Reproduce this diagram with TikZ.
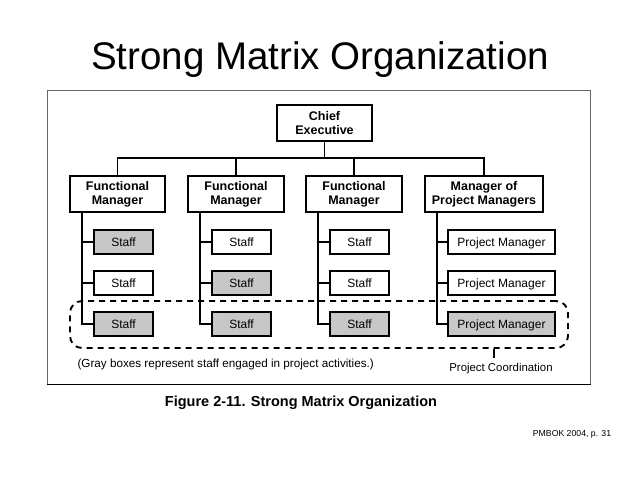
\documentclass[tikz,border=0pt]{standalone}
\usepackage{fontspec}
\setmainfont{Liberation Sans}
\begin{document}
\begin{tikzpicture}[x=1pt,y=-1pt,
  mgr/.style={draw,line width=1.1pt,font=\bfseries\fontsize{12.5}{14}\selectfont,align=center,inner sep=0pt},
  wbox/.style={draw,line width=1.1pt,font=\fontsize{12}{13}\selectfont,inner sep=0pt,minimum height=24pt,text depth=0pt},
  gbox/.style={wbox,fill=black!22},
  ln/.style={line width=1.1pt}]
\useasboundingbox (0,0) rectangle (638,479);
\node (title) at (320,60) {\fontsize{38.5}{42}\selectfont Strong Matrix Organization};
\node[draw=black!60,line width=1pt,minimum width=543pt,minimum height=294pt,inner sep=0pt] (frame) at (318.5,237) {};
\draw[line width=1.6pt] (frame.south west) -- (frame.south east);
\node[mgr,minimum width=95pt,minimum height=36pt] (ce) at (324.5,123) {Chief\\Executive};
\node[mgr,minimum width=95pt,minimum height=36pt] (f1) at (117.5,194) {Functional\\Manager};
\node[mgr,minimum width=96pt,minimum height=36pt] (f2) at (236,194) {Functional\\Manager};
\node[mgr,minimum width=96pt,minimum height=36pt] (f3) at (354,194) {Functional\\Manager};
\node[mgr,minimum width=118pt,minimum height=36pt] (pm) at (484,194) {Manager of\\Project Managers};
\coordinate (bus) at (0,158);
\draw[ln] (ce.south) -- (ce.south |- bus);
\draw[ln] (f1.north) -- (f1.north |- bus) -- (pm.north |- bus) -- (pm.north);
\draw[ln] (f2.north) -- (f2.north |- bus);
\draw[ln] (f3.north) -- (f3.north |- bus);
% staff
\node[gbox,minimum width=59pt] (a1) at (123.5,242) {Staff};
\node[wbox,minimum width=59pt] (a2) at (123.5,283) {Staff};
\node[gbox,minimum width=59pt] (a3) at (123.5,324) {Staff};
\node[wbox,minimum width=59pt] (b1) at (241.5,242) {Staff};
\node[gbox,minimum width=59pt] (b2) at (241.5,283) {Staff};
\node[gbox,minimum width=59pt] (b3) at (241.5,324) {Staff};
\node[wbox,minimum width=59pt] (c1) at (359.5,242) {Staff};
\node[wbox,minimum width=59pt] (c2) at (359.5,283) {Staff};
\node[gbox,minimum width=59pt] (c3) at (359.5,324) {Staff};
\node[wbox,minimum width=107pt] (d1) at (501.5,242) {Project Manager};
\node[wbox,minimum width=107pt] (d2) at (501.5,283) {Project Manager};
\node[gbox,minimum width=107pt] (d3) at (501.5,324) {Project Manager};
\foreach \m/\s/\x in {f1/a/82,f2/b/200,f3/c/318,pm/d/437}{
  \coordinate (t\m) at (\x,212);
  \draw[ln] (t\m) -- (t\m |- \s3.west) -- (\s3.west);
  \draw[ln] (t\m |- \s1.west) -- (\s1.west);
  \draw[ln] (t\m |- \s2.west) -- (\s2.west);
}
\node[draw,line width=1.9pt,dash pattern=on 6pt off 5pt,rounded corners=12pt,minimum width=498pt,minimum height=47pt,inner sep=0pt] (coord) at (319,324.5) {};
\coordinate (tick) at (494,358);
\draw[ln] (coord.south -| tick) -- (tick);
\node[font=\fontsize{11.4}{12}\selectfont,anchor=north] (pclab) at (501,360) {Project Coordination};
\node[font=\fontsize{11.7}{12}\selectfont,anchor=west] (gray) at (74,364) {(Gray boxes represent staff engaged in project activities.)};
\node[font=\bfseries\fontsize{14.5}{16}\selectfont] (fig) at (301,403) {Figure 2-11. Strong Matrix Organization};
\node[font=\fontsize{8.7}{9}\selectfont] (ref) at (572,434) {PMBOK 2004, p. 31};
\end{tikzpicture}
\end{document}
